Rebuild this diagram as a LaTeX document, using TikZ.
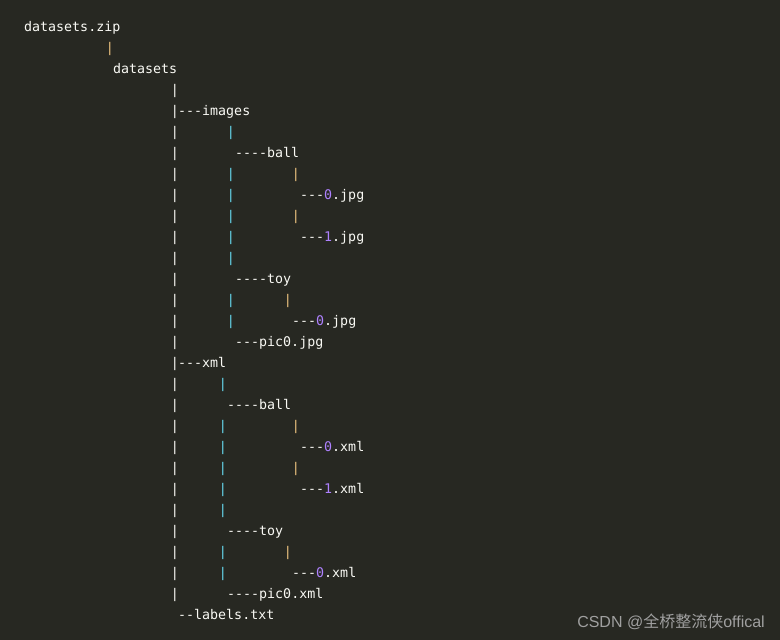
\documentclass[tikz,border=0pt]{standalone}
\usepackage{fontspec}
\usepackage{tikz}
\newfontfamily\codefont{DejaVu Sans Mono}
\newfontfamily\markfont{Liberation Sans}
\newfontfamily\cjkfont{Noto Sans CJK SC}
\definecolor{editorbg}{RGB}{39, 40, 34}
\definecolor{plaintext}{RGB}{250, 250, 245}
\definecolor{numeral}{RGB}{174, 129, 255}
\definecolor{treecyan}{RGB}{102, 217, 239}
\definecolor{treetan}{RGB}{238, 196, 128}
\definecolor{watermark}{RGB}{160, 160, 160}
\newcommand{\num}[1]{\textcolor{numeral}{#1}}

\begin{document}
\begin{tikzpicture}[x=1pt, y=-1pt,
    codeline/.style={anchor=base west, inner sep=0pt, text=plaintext, font={\codefont\fontsize{13.3}{16}\selectfont}},
    rootbar/.style={anchor=base, inner sep=0pt, text=plaintext, font={\codefont\fontsize{13.3}{16}\selectfont}},
    cyanbar/.style={rootbar, text=treecyan},
    tanbar/.style={rootbar, text=treetan}]
            \fill[editorbg] (0,0) rectangle (780,640);
            \useasboundingbox (0,0) rectangle (780,640);
            % top of the tree
            \node[codeline] (zip)      at ( 24, 31) {datasets.zip};
            \node[tanbar]   (zipbar)   at (110, 52) {|};
            \node[codeline] (root)     at (113, 73) {datasets};
            % main column
            \foreach \k in {3,...,27}
                \node[rootbar] (main\k) at (175, 31+21*\k) {|};
            \node[codeline] (images)   at (178,115) {---images};
            \node[codeline] (xml)      at (178,367) {---xml};
            \node[codeline] (labels)   at (178,619) {--labels.txt};
            % images branch
            \node[cyanbar]  (imgbarA)  at (231,136) {|};
            \node[codeline] (imgball)  at (235,157) {----ball};
            \node[cyanbar]  (imgbarB)  at (231,178) {|};
            \node[tanbar]   (jballA)   at (296,178) {|};
            \node[cyanbar]  (imgbarC)  at (231,199) {|};
            \node[codeline] (jball0)   at (300,199) {---\num{0}.jpg};
            \node[cyanbar]  (imgbarD)  at (231,220) {|};
            \node[tanbar]   (jballB)   at (296,220) {|};
            \node[cyanbar]  (imgbarE)  at (231,241) {|};
            \node[codeline] (jball1)   at (300,241) {---\num{1}.jpg};
            \node[cyanbar]  (imgbarF)  at (231,262) {|};
            \node[codeline] (imgtoy)   at (235,283) {----toy};
            \node[cyanbar]  (imgbarG)  at (231,304) {|};
            \node[tanbar]   (jtoyA)    at (288,304) {|};
            \node[cyanbar]  (imgbarH)  at (231,325) {|};
            \node[codeline] (jtoy0)    at (292,325) {---\num{0}.jpg};
            \node[codeline] (imgpic)   at (235,346) {---pic0.jpg};
            % xml branch
            \node[cyanbar]  (xmlbarA)  at (223,388) {|};
            \node[codeline] (xmlball)  at (227,409) {----ball};
            \node[cyanbar]  (xmlbarB)  at (223,430) {|};
            \node[tanbar]   (xballA)   at (296,430) {|};
            \node[cyanbar]  (xmlbarC)  at (223,451) {|};
            \node[codeline] (xball0)   at (300,451) {---\num{0}.xml};
            \node[cyanbar]  (xmlbarD)  at (223,472) {|};
            \node[tanbar]   (xballB)   at (296,472) {|};
            \node[cyanbar]  (xmlbarE)  at (223,493) {|};
            \node[codeline] (xball1)   at (300,493) {---\num{1}.xml};
            \node[cyanbar]  (xmlbarF)  at (223,514) {|};
            \node[codeline] (xmltoy)   at (227,535) {----toy};
            \node[cyanbar]  (xmlbarG)  at (223,556) {|};
            \node[tanbar]   (xtoyA)    at (288,556) {|};
            \node[cyanbar]  (xmlbarH)  at (223,577) {|};
            \node[codeline] (xtoy0)    at (292,577) {---\num{0}.xml};
            \node[codeline] (xmlpic)   at (227,598) {----pic0.xml};
            % watermark
            \node[anchor=base east, inner sep=0pt, text=watermark, font={\markfont\fontsize{16}{18}\selectfont}]
                 (mark) at (765,627) {CSDN @{\cjkfont 全桥整流侠}offical};
        \end{tikzpicture}
\end{document}
